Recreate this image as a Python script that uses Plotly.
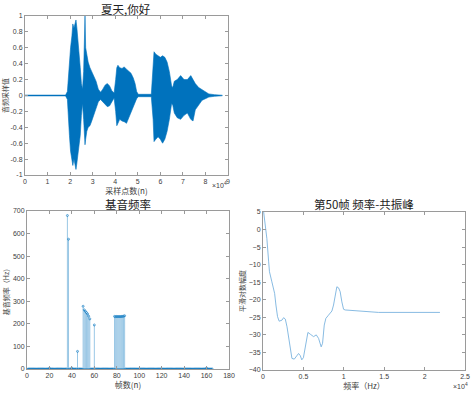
import plotly.graph_objects as go

# ---------------- data ----------------
# waveform envelope (sample index, upper, lower)
wave_pos = [0, 18000, 18800, 19200, 19700, 20200, 20800, 21200, 21700, 22200, 22600, 23000,
            23500, 24000, 24500, 25000, 25500, 26000, 26400, 26600, 26900, 27400, 28000, 28800,
            29600, 30500, 31500, 32500, 33500, 34500, 35500, 36500, 37500, 38500, 39500, 40200,
            40700, 41200, 42000, 43000, 44000, 45000, 46000, 47000, 48000, 48800, 49500, 50200,
            56000, 56800, 57200, 58000, 59000, 60000, 61000, 62000, 63000, 64000, 65000, 65500,
            66200, 67500, 69000, 70500, 72000, 73500, 74500, 75500, 77000, 78500, 80000, 81500,
            84000, 87500]
wave_upper = [0.005, 0.005, 0.05, 0.25, 0.45, 0.6, 0.75, 0.9, 0.85, 0.93, 0.95, 0.85,
              0.7, 0.55, 0.35, 0.15, 0.08, 0.3, 0.8, 1.0, 0.6, 0.5, 0.42, 0.35,
              0.3, 0.25, 0.18, 0.08, 0.04, 0.08, 0.13, 0.15, 0.12, 0.06, 0.03, 0.2,
              0.35, 0.38, 0.35, 0.34, 0.36, 0.33, 0.3, 0.28, 0.22, 0.15, 0.05, 0.015,
              0.015, 0.3, 0.55, 0.52, 0.5, 0.48, 0.5, 0.48, 0.42, 0.3, 0.12, 0.1,
              0.18, 0.2, 0.25, 0.2, 0.2, 0.25, 0.2, 0.15, 0.1, 0.07, 0.04, 0.02,
              0.01, 0.003]
wave_lower = [-0.005, -0.005, -0.05, -0.3, -0.5, -0.7, -0.82, -0.88, -0.8, -0.9, -0.93, -0.85,
              -0.75, -0.65, -0.5, -0.25, -0.1, -0.3, -0.55, -0.62, -0.55, -0.45, -0.4, -0.38,
              -0.32, -0.25, -0.15, -0.08, -0.05, -0.08, -0.12, -0.14, -0.13, -0.07, -0.03, -0.2,
              -0.38, -0.35, -0.3, -0.32, -0.33, -0.35, -0.28, -0.22, -0.15, -0.1, -0.04, -0.015,
              -0.015, -0.3, -0.58, -0.55, -0.52, -0.55, -0.6, -0.55, -0.45, -0.3, -0.1, -0.12,
              -0.22, -0.28, -0.3, -0.25, -0.22, -0.3, -0.32, -0.18, -0.12, -0.06, -0.04, -0.02,
              -0.01, -0.003]

# pitch per frame (frames 1..165); nonzero entries
n_frames = 165
pitch_frames = [20, 36, 37, 40, 45, 50, 51, 52, 53, 54, 55, 56, 60,
                78, 79, 80, 81, 82, 83, 84, 85, 86, 87, 160]
pitch_values = [3, 680, 575, 4, 78, 278, 262, 256, 250, 244, 234, 222, 195,
                233, 232, 233, 232, 233, 232, 233, 233, 234, 236, 4]

# formant curve (Hz, smoothed log amplitude)
form_freq = [80, 370, 480, 700, 800, 1100, 1440, 1600, 1800, 2000, 2350, 2550, 2760, 2970,
             3170, 3380, 3580, 3870, 4200, 4400, 4610, 4800, 5000, 5230, 5440, 5560, 5850,
             6260, 6590, 6880, 7200, 7370, 7580, 7780, 8100, 8530, 8730, 8940, 9140, 9350,
             9550, 9760, 9970, 10170, 12230, 13470, 14300, 21900]
form_amp = [5.0, 0.3, -2.6, -9.2, -12.0, -14.9, -18.2, -21.5, -24.8, -26.1, -25.8, -25.1, -25.5,
            -27.7, -31.0, -34.3, -36.7, -36.9, -35.7, -35.3, -35.9, -37.1, -36.5, -33.8, -30.5,
            -29.3, -29.8, -30.5, -30.0, -31.0, -33.4, -32.4, -27.2, -25.3, -24.4, -23.2, -21.5,
            -18.2, -16.3, -16.6, -17.7, -20.6, -22.7, -22.9, -23.2, -23.4, -23.6, -23.6]

# tick labels
wave_ticks = [0, 10000, 20000, 30000, 40000, 50000, 60000, 70000, 80000, 90000]
wave_ticklabels = ["0", "1", "2", "3", "4", "5", "6", "7", "8", "9"]
freq_ticks = [0, 5000, 10000, 15000, 20000, 25000]
freq_ticklabels = ["0", "0.5", "1", "1.5", "2", "2.5"]

# ---------------- figure ----------------
BLUE = "#0072BD"
CJK = "Noto Sans CJK SC"
TICKF = dict(family="Liberation Sans, Arial", size=7, color="#404040")

fig = go.Figure()

# waveform
fig.add_trace(go.Scatter(x=wave_pos, y=wave_upper, mode="lines",
                         line=dict(color=BLUE, width=0.6), xaxis="x", yaxis="y",
                         showlegend=False, hoverinfo="skip"))
fig.add_trace(go.Scatter(x=wave_pos, y=wave_lower, mode="lines", fill="tonexty",
                         fillcolor=BLUE, line=dict(color=BLUE, width=0.6),
                         xaxis="x", yaxis="y", showlegend=False, hoverinfo="skip"))

# pitch stem plot
pitch_full = [0.0] * n_frames
for f, v in zip(pitch_frames, pitch_values):
    pitch_full[f - 1] = v
frames = list(range(1, n_frames + 1))
sx, sy = [], []
for f, v in zip(frames, pitch_full):
    if v > 0:
        sx += [f, f, None]
        sy += [0, v, None]
fig.add_trace(go.Scatter(x=sx, y=sy, mode="lines",
                         line=dict(color="rgba(0,114,189,0.4)", width=1),
                         xaxis="x2", yaxis="y2", showlegend=False, hoverinfo="skip"))
fig.add_trace(go.Scatter(x=[0, n_frames], y=[0, 0], mode="lines",
                         line=dict(color=BLUE, width=1.2), xaxis="x2", yaxis="y2",
                         showlegend=False, hoverinfo="skip"))
fig.add_trace(go.Scatter(x=frames, y=pitch_full, mode="markers",
                         marker=dict(symbol="circle-open", size=2, color=BLUE,
                                     line=dict(width=0.6, color=BLUE)),
                         xaxis="x2", yaxis="y2", showlegend=False, hoverinfo="skip"))

# formant curve
fig.add_trace(go.Scatter(x=form_freq, y=form_amp, mode="lines",
                         line=dict(color="#6aaadb", width=0.8),
                         xaxis="x3", yaxis="y3", showlegend=False, hoverinfo="skip"))

axis_common = dict(showline=True, mirror="ticks", linecolor="#9a9a9a", linewidth=1,
                   ticks="inside", ticklen=3, tickcolor="#9a9a9a", showgrid=False,
                   zeroline=False, tickfont=TICKF, automargin=False)

TITLE_F8 = dict(family=CJK, size=8, color="#404040")
TITLE_F7 = dict(family=CJK, size=7, color="#404040")
HEAD_F = dict(family=CJK, size=11.5, color="#222222")

fig.update_layout(
    width=474, height=395,
    margin=dict(l=0, r=0, t=0, b=0, autoexpand=False),
    paper_bgcolor="white", plot_bgcolor="white",
    xaxis=dict(domain=[25 / 474, 228 / 474], range=[0, 90000], tickvals=wave_ticks,
               ticktext=wave_ticklabels, anchor="y",
               title=dict(text="采样点数(n)", font=TITLE_F8, standoff=1),
               **axis_common),
    yaxis=dict(domain=[1 - 175 / 395, 1 - 16 / 395], range=[-1, 1],
               tickvals=[-1, -0.8, -0.6, -0.4, -0.2, 0, 0.2, 0.4, 0.6, 0.8, 1],
               ticktext=["-1", "-0.8", "-0.6", "-0.4", "-0.2", "0", "0.2", "0.4", "0.6", "0.8", "1"],
               anchor="x",
               title=dict(text="音频采样值", font=TITLE_F7, standoff=2),
               **axis_common),
    xaxis2=dict(domain=[27 / 474, 229 / 474], range=[0, 180], dtick=20, anchor="y2",
                title=dict(text="帧数(n)", font=TITLE_F8, standoff=1),
                **axis_common),
    yaxis2=dict(domain=[1 - 369 / 395, 1 - 211 / 395], range=[0, 700], dtick=100, anchor="x2",
                title=dict(text="基音频率（Hz）", font=TITLE_F7, standoff=2),
                **axis_common),
    xaxis3=dict(domain=[263 / 474, 465 / 474], range=[0, 25000], tickvals=freq_ticks,
                ticktext=freq_ticklabels, anchor="y3",
                title=dict(text="频率（Hz）", font=TITLE_F8, standoff=1),
                **axis_common),
    yaxis3=dict(domain=[1 - 370 / 395, 1 - 212 / 395], range=[-40, 5], dtick=5, anchor="x3",
                title=dict(text="平滑对数幅度", font=TITLE_F7, standoff=2),
                **axis_common),
    annotations=[
        dict(text="夏天,你好", x=126 / 474, y=1 - 9 / 395, xref="paper", yref="paper",
             xanchor="center", yanchor="middle", showarrow=False, font=HEAD_F),
        dict(text="基音频率", x=128 / 474, y=1 - 204 / 395, xref="paper", yref="paper",
             xanchor="center", yanchor="middle", showarrow=False, font=HEAD_F),
        dict(text="第50帧 频率-共振峰", x=364 / 474, y=1 - 204 / 395, xref="paper", yref="paper",
             xanchor="center", yanchor="middle", showarrow=False, font=HEAD_F),
        dict(text="×10<sup>4</sup>", x=229 / 474, y=1 - 185 / 395, xref="paper", yref="paper",
             xanchor="right", yanchor="middle", showarrow=False,
             font=dict(family="Liberation Sans", size=7, color="#404040")),
        dict(text="×10<sup>4</sup>", x=470 / 474, y=1 - 386 / 395, xref="paper", yref="paper",
             xanchor="right", yanchor="middle", showarrow=False,
             font=dict(family="Liberation Sans", size=7, color="#404040")),
    ],
)

fig.write_html("out.html", config={"displayModeBar": False},
               post_script="document.body.style.margin='0';")
